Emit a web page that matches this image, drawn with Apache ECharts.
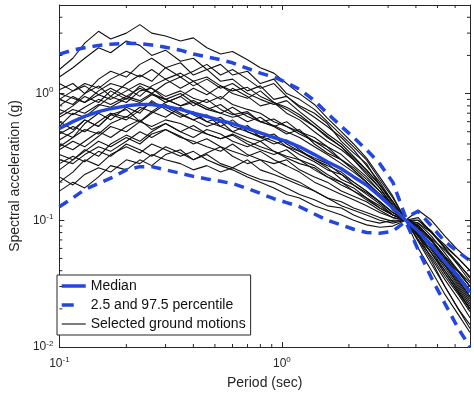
<!DOCTYPE html>
<html><head><meta charset="utf-8">
<script src="https://cdn.jsdelivr.net/npm/echarts@6/dist/echarts.min.js"></script>
<style>html,body{margin:0;padding:0;background:#fff}#c{width:474px;height:395px}</style>
</head><body><div id="c"></div>
<script>
const periods = [0.1,0.115,0.13,0.15,0.17,0.2,0.23,0.26,0.3,0.35,0.4,0.46,0.53,0.6,0.7,0.8,0.92,1.05,1.2,1.4,1.6,1.85,2.1,2.4,2.75,3.15,3.6,4.1,4.7,5.4,6.2,7.0];
const medianVals = [0.53,0.6,0.66,0.72,0.76,0.8,0.82,0.82,0.79,0.75,0.7,0.66,0.61,0.58,0.53,0.49,0.45,0.42,0.38,0.33,0.29,0.255,0.22,0.19,0.155,0.125,0.1,0.082,0.063,0.047,0.036,0.027];
const upperVals = [2.05,2.2,2.3,2.4,2.45,2.5,2.48,2.42,2.32,2.2,2.05,1.95,1.85,1.75,1.58,1.45,1.35,1.22,1.08,0.88,0.7,0.55,0.45,0.36,0.28,0.2,0.105,0.118,0.09,0.068,0.056,0.048];
const lowerVals = [0.128,0.15,0.175,0.195,0.215,0.25,0.265,0.265,0.25,0.235,0.222,0.212,0.203,0.195,0.178,0.163,0.148,0.138,0.128,0.112,0.1,0.092,0.085,0.08,0.079,0.082,0.098,0.058,0.035,0.022,0.014,0.01];
const gm01 = [1.55,1.9,2.5,3.1,2.7,3.0,3.5,3.0,2.85,2.6,2.75,2.3,2.05,2.15,1.85,1.6,1.45,1.2,1.0,0.82,0.64,0.5,0.4,0.31,0.22,0.155,0.1,0.105,0.08,0.06,0.044,0.033];
const gm02 = [1.35,1.6,1.9,2.3,2.1,2.6,2.4,2.0,2.2,1.8,1.9,1.55,1.7,1.4,1.5,1.2,1.3,1.0,0.9,0.75,0.6,0.47,0.38,0.3,0.21,0.15,0.1,0.12,0.1,0.075,0.058,0.048];
const gm03 = [1.07,1.2,1.0,1.3,1.5,1.35,1.7,1.9,1.6,1.75,1.4,1.55,1.25,1.3,1.05,1.15,0.9,0.95,0.78,0.65,0.55,0.45,0.36,0.27,0.2,0.14,0.1,0.09,0.07,0.052,0.04,0.03];
const gm04 = [0.9,0.82,1.0,1.15,0.95,1.2,1.4,1.25,1.6,1.35,1.5,1.7,1.4,1.55,1.3,1.1,1.2,0.95,0.8,0.7,0.58,0.42,0.34,0.28,0.19,0.135,0.1,0.088,0.06,0.042,0.03,0.022];
const gm05 = [0.8,0.95,0.85,1.05,1.2,1.1,0.95,1.15,1.3,1.1,1.25,1.05,0.9,1.1,0.95,0.8,0.85,0.7,0.62,0.5,0.42,0.36,0.3,0.23,0.18,0.13,0.1,0.095,0.075,0.055,0.04,0.032];
const gm06 = [0.68,0.8,0.95,0.85,1.05,0.9,1.15,1.0,0.85,0.95,0.8,0.9,0.75,0.68,0.72,0.6,0.55,0.6,0.5,0.42,0.38,0.3,0.26,0.21,0.17,0.125,0.1,0.078,0.055,0.038,0.027,0.02];
const gm07 = [0.55,0.7,0.65,0.8,0.95,0.85,1.05,1.1,0.9,1.0,0.85,0.75,0.82,0.7,0.6,0.65,0.55,0.48,0.52,0.4,0.34,0.3,0.25,0.2,0.16,0.12,0.1,0.085,0.065,0.05,0.039,0.03];
const gm08 = [0.5,0.45,0.58,0.7,0.62,0.78,0.7,0.88,0.75,0.65,0.72,0.6,0.55,0.62,0.5,0.46,0.42,0.38,0.35,0.3,0.27,0.24,0.2,0.17,0.14,0.115,0.1,0.075,0.05,0.034,0.024,0.017];
const gm09 = [0.43,0.5,0.62,0.55,0.68,0.75,0.6,0.7,0.82,0.7,0.62,0.68,0.55,0.5,0.56,0.45,0.4,0.43,0.36,0.3,0.26,0.21,0.19,0.16,0.135,0.11,0.1,0.09,0.072,0.058,0.045,0.036];
const gm10 = [0.4,0.36,0.42,0.5,0.45,0.55,0.62,0.52,0.58,0.5,0.45,0.52,0.48,0.42,0.38,0.42,0.35,0.32,0.3,0.27,0.23,0.2,0.18,0.15,0.13,0.11,0.1,0.07,0.048,0.03,0.02,0.014];
const gm11 = [0.36,0.42,0.38,0.46,0.55,0.5,0.6,0.72,0.65,0.78,0.68,0.6,0.65,0.55,0.5,0.45,0.48,0.4,0.35,0.31,0.28,0.23,0.2,0.17,0.14,0.115,0.1,0.08,0.062,0.045,0.033,0.025];
const gm12 = [0.33,0.3,0.35,0.42,0.38,0.45,0.4,0.48,0.52,0.45,0.42,0.38,0.35,0.4,0.33,0.3,0.28,0.3,0.25,0.22,0.2,0.17,0.155,0.14,0.12,0.105,0.1,0.078,0.058,0.04,0.028,0.02];
const gm13 = [0.28,0.32,0.29,0.35,0.32,0.4,0.36,0.32,0.38,0.34,0.3,0.33,0.28,0.26,0.3,0.25,0.23,0.21,0.19,0.17,0.15,0.14,0.125,0.115,0.105,0.098,0.1,0.06,0.04,0.026,0.018,0.013];
const gm14 = [0.2,0.24,0.3,0.27,0.33,0.38,0.34,0.4,0.36,0.32,0.35,0.3,0.27,0.25,0.22,0.2,0.18,0.16,0.15,0.13,0.12,0.11,0.1,0.092,0.088,0.09,0.1,0.088,0.068,0.05,0.037,0.028];
const gm15 = [0.17,0.2,0.18,0.22,0.27,0.25,0.3,0.27,0.33,0.36,0.3,0.34,0.38,0.32,0.28,0.3,0.25,0.22,0.2,0.17,0.15,0.13,0.12,0.11,0.1,0.095,0.1,0.07,0.052,0.036,0.026,0.019];
const gm16 = [0.6,0.52,0.62,0.55,0.68,0.62,0.74,0.85,0.78,0.68,0.62,0.55,0.6,0.5,0.45,0.42,0.46,0.38,0.33,0.29,0.25,0.23,0.19,0.165,0.14,0.115,0.1,0.083,0.06,0.044,0.031,0.023];
const gm17 = [0.75,0.68,0.78,0.9,0.82,0.95,1.1,1.0,1.2,1.35,1.15,1.3,1.1,1.2,1.0,0.9,0.82,0.88,0.72,0.58,0.48,0.4,0.32,0.25,0.19,0.14,0.1,0.1,0.08,0.062,0.05,0.04];
const gm18 = [0.48,0.55,0.5,0.6,0.7,0.65,0.78,0.72,0.85,0.95,1.1,0.98,1.15,1.0,0.92,1.05,0.85,0.75,0.65,0.55,0.45,0.38,0.3,0.24,0.18,0.13,0.1,0.092,0.07,0.05,0.037,0.028];
const gm19 = [0.38,0.45,0.52,0.48,0.58,0.66,0.6,0.55,0.62,0.58,0.52,0.48,0.44,0.47,0.4,0.36,0.33,0.36,0.3,0.25,0.22,0.19,0.17,0.15,0.125,0.11,0.1,0.076,0.055,0.04,0.029,0.021];
const gm20 = [0.25,0.3,0.36,0.32,0.4,0.47,0.42,0.5,0.58,0.5,0.56,0.48,0.44,0.48,0.42,0.38,0.35,0.31,0.28,0.26,0.22,0.2,0.17,0.145,0.125,0.11,0.1,0.095,0.08,0.064,0.05,0.04];
const gm21 = [1.2,1.05,1.15,0.98,1.1,0.95,0.88,1.0,0.9,0.8,0.85,0.75,0.7,0.78,0.66,0.6,0.63,0.55,0.48,0.42,0.36,0.3,0.25,0.2,0.16,0.125,0.1,0.083,0.062,0.044,0.032,0.024];
const gm22 = [0.9,1.05,1.2,1.1,1.3,1.5,1.35,1.55,1.3,1.45,1.25,1.35,1.15,1.05,1.12,0.95,0.85,0.78,0.68,0.55,0.46,0.38,0.31,0.25,0.19,0.14,0.1,0.1,0.082,0.06,0.046,0.035];
const gm23 = [0.3,0.28,0.33,0.38,0.35,0.42,0.5,0.45,0.52,0.46,0.4,0.44,0.38,0.35,0.32,0.35,0.3,0.27,0.24,0.2,0.18,0.16,0.145,0.13,0.115,0.105,0.1,0.068,0.045,0.03,0.02,0.015];
const gm24 = [0.65,0.75,0.7,0.82,0.78,0.92,0.85,0.98,0.9,0.8,0.88,0.78,0.7,0.65,0.7,0.6,0.56,0.5,0.45,0.38,0.33,0.28,0.24,0.2,0.16,0.125,0.1,0.09,0.07,0.052,0.04,0.03];
const gm25 = [0.22,0.19,0.23,0.26,0.24,0.3,0.28,0.33,0.3,0.28,0.25,0.27,0.24,0.26,0.23,0.21,0.2,0.18,0.16,0.145,0.13,0.125,0.11,0.1,0.095,0.1,0.1,0.074,0.055,0.038,0.027,0.02];
const gm26 = [1.0,0.92,0.85,0.98,0.9,1.05,1.2,1.1,0.95,1.05,0.92,0.85,0.95,0.82,0.75,0.7,0.6,0.55,0.5,0.45,0.38,0.33,0.27,0.22,0.17,0.13,0.1,0.086,0.064,0.046,0.034,0.025];
const groundMotions = [gm01,gm02,gm03,gm04,gm05,gm06,gm07,gm08,gm09,gm10,gm11,gm12,gm13,gm14,gm15,gm16,gm17,gm18,gm19,gm20,gm21,gm22,gm23,gm24,gm25,gm26];
const xMinorTicks = [0.2,0.3,0.4,0.5,0.6,0.7,0.8,0.9,2,3,4,5,6];
const yMinorTicks = [0.02,0.03,0.04,0.05,0.06,0.07,0.08,0.09,0.2,0.3,0.4,0.5,0.6,0.7,0.8,0.9,2,3,4];
const legendNames = ['Median','2.5 and 97.5 percentile','Selected ground motions'];
const xName = 'Period (sec)';
const yName = 'Spectral acceleration (g)';

const FONT = '"Liberation Sans", Arial, Helvetica, sans-serif';
const AX = '#262626';
const BLUE = '#2446e0';
const DASH = [10, 7];
const pair = vals => periods.map((p, i) => [p, vals[i]]);

function powLabel(v) {
  const e = Math.round(Math.log10(v));
  if (Math.abs(v - Math.pow(10, e)) > 1e-9 * Math.pow(10, e)) return '';
  return '10{s|' + e + '}';
}
const labelRich = { s: { fontSize: 8, fontFamily: FONT, color: AX, verticalAlign: 'top', padding: [0, 0, 7, 0] } };

function makeAxis(type, pos, min, max, show) {
  return {
    type: 'log', logBase: 10, min: min, max: max, position: pos,
    gridIndex: 0,
    axisLine: { show: true, lineStyle: { color: AX, width: 1 } },
    axisTick: { show: true, inside: true, length: 5, lineStyle: { color: AX } },
    splitLine: { show: false },
    minorTick: { show: false },
    axisLabel: show ? {
      show: true, formatter: powLabel, rich: labelRich, color: AX,
      fontSize: 12, fontFamily: FONT, margin: type === 'x' ? 9 : 6,
      showMaxLabel: false
    } : { show: false }
  };
}

const series = [];
groundMotions.forEach(g => series.push({
  name: legendNames[2], type: 'line', data: pair(g), symbol: 'none',
  lineStyle: { color: '#111', width: 1.1 }, itemStyle: { color: '#111' },
  z: 2, silent: true
}));
[upperVals, lowerVals].forEach(v => series.push({
  name: legendNames[1], type: 'line', data: pair(v), symbol: 'none',
  lineStyle: { color: BLUE, width: 3.5, type: DASH }, itemStyle: { color: BLUE },
  z: 3
}));
series.push({
  name: legendNames[0], type: 'line', data: pair(medianVals), symbol: 'none',
  lineStyle: { color: BLUE, width: 3.5 }, itemStyle: { color: BLUE }, z: 4
});
// minor ticks (inside, on all four sides)
series.push({
  type: 'custom', silent: true, z: 5, clip: false,
  data: xMinorTicks.map(v => [v, 1]),
  renderItem: (params, api) => {
    const cs = params.coordSys;
    const x = api.coord([api.value(0), 1])[0];
    return { type: 'group', children: [
      { type: 'line', shape: { x1: x, y1: cs.y + cs.height, x2: x, y2: cs.y + cs.height - 3 }, style: { stroke: AX, lineWidth: 1 } },
      { type: 'line', shape: { x1: x, y1: cs.y, x2: x, y2: cs.y + 3 }, style: { stroke: AX, lineWidth: 1 } }
    ]};
  }
});
series.push({
  type: 'custom', silent: true, z: 5, clip: false,
  data: yMinorTicks.map(v => [1, v]),
  renderItem: (params, api) => {
    const cs = params.coordSys;
    const y = api.coord([1, api.value(1)])[1];
    return { type: 'group', children: [
      { type: 'line', shape: { x1: cs.x, y1: y, x2: cs.x + 3, y2: y }, style: { stroke: AX, lineWidth: 1 } },
      { type: 'line', shape: { x1: cs.x + cs.width, y1: y, x2: cs.x + cs.width - 3, y2: y }, style: { stroke: AX, lineWidth: 1 } }
    ]};
  }
});

const xb = makeAxis('x', 'bottom', 0.1, 7, true);
xb.name = xName; xb.nameLocation = 'middle'; xb.nameGap = 29;
xb.nameTextStyle = { fontSize: 14, fontFamily: FONT, color: AX };
const yl = makeAxis('y', 'left', 0.01, 5, true);
yl.name = yName; yl.nameLocation = 'middle'; yl.nameGap = 33; yl.nameRotate = 90;
yl.nameTextStyle = { fontSize: 14, fontFamily: FONT, color: AX };

const chart = echarts.init(document.getElementById('c'), null, { renderer: 'canvas' });
chart.setOption({
  animation: false,
  backgroundColor: '#fff',
  grid: { left: 50, right: 4, top: 5, bottom: 48, containLabel: false },
  xAxis: [xb, makeAxis('x', 'top', 0.1, 7, false)],
  yAxis: [yl, makeAxis('y', 'right', 0.01, 5, false)],
  legend: {
    data: [
      { name: legendNames[0], lineStyle: { width: 3.5, color: BLUE } },
      { name: legendNames[1], lineStyle: { width: 3.5, color: BLUE, type: [12, 14] } },
      { name: legendNames[2], lineStyle: { width: 1.1, color: '#111' } }
    ],
    orient: 'vertical', left: 57, top: 275,
    itemWidth: 24, itemHeight: 14, itemGap: 5,
    padding: [4, 5, 4, 3], borderColor: AX, borderWidth: 1, backgroundColor: '#fff',
    itemStyle: { color: 'rgba(0,0,0,0)', borderWidth: 0, opacity: 0 },
    textStyle: { fontSize: 14, fontFamily: FONT, color: '#111' },
    selectedMode: false
  },
  series: series
});
</script></body></html>
